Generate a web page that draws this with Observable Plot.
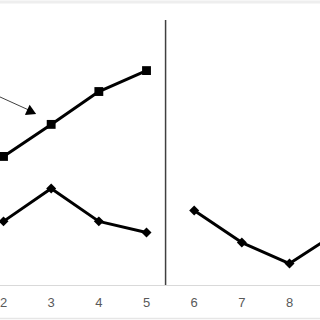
<!DOCTYPE html>
<html><head><meta charset="utf-8">
<script src="https://cdn.jsdelivr.net/npm/d3@7"></script>
<script src="https://cdn.jsdelivr.net/npm/@observablehq/plot@0.6"></script>
<style>body{margin:0;background:#fff;overflow:hidden}</style>
</head><body><div id="chart"></div>
<script>
const categories = [2, 3, 4, 5, 6, 7, 8, 9];
const squareX = [2, 3, 4, 5];
const squareY = [48.7, 60.8, 73.2, 81.1];
const diamondLeftX = [2, 3, 4, 5];
const diamondLeftY = [24.2, 36.6, 24.2, 20.0];
const diamondRightX = [6, 7, 8, 9];
const diamondRightY = [28.3, 16.2, 8.3, 20.0];
const dividerX = [5.4];
const arrowLine = [{x1: 1.7, y1: 73.0, x2: 2.52, y2: 66.3}];
const arrowHead = [{x: 2.56, y: 65.8}];

const sq = squareX.map((x, i) => ({x, y: squareY[i]}));
const dia = [
  ...diamondLeftX.map((x, i) => ({x, y: diamondLeftY[i], seg: "a"})),
  ...diamondRightX.map((x, i) => ({x, y: diamondRightY[i], seg: "b"}))
];
const tickVals = categories.filter(c => c <= 8);

const chart = Plot.plot({
  width: 320, height: 320,
  marginTop: 0, marginBottom: 35, marginLeft: 0, marginRight: 0,
  style: {fontFamily: "Liberation Sans, Arial, sans-serif", fontSize: "13px", color: "#595959", background: "#fff"},
  x: {domain: [1.937, 8.65]},
  y: {domain: [0, 107.55], axis: null},
  marks: [
    Plot.ruleY([107], {stroke: "#eeeeee", strokeWidth: 3}),
    Plot.ruleY([-12.5], {stroke: "#e6e6e6", strokeWidth: 1.5}),
    Plot.ruleY([0], {stroke: "#d9d9d9", strokeWidth: 1}),
    Plot.ruleX(dividerX, {y1: 0, y2: 100, stroke: "#404040", strokeWidth: 1.5}),
    Plot.link(arrowLine, {x1: "x1", y1: "y1", x2: "x2", y2: "y2", stroke: "#404040", strokeWidth: 1}),
    Plot.dot(arrowHead, {x: "x", y: "y", symbol: "triangle", r: 4.2, fill: "#000", rotate: 115}),
    Plot.line(sq, {x: "x", y: "y", stroke: "#000", strokeWidth: 3}),
    Plot.dot(sq, {x: "x", y: "y", symbol: "square", r: 5, fill: "#000"}),
    Plot.line(dia, {x: "x", y: "y", z: "seg", stroke: "#000", strokeWidth: 3}),
    Plot.dot(dia, {x: "x", y: "y", symbol: "diamond2", r: 4.5, fill: "#000", stroke: "none"}),
    Plot.axisX({ticks: tickVals, tickFormat: d => String(d), tickSize: 0, tickPadding: 12, fill: "#595959", fontSize: 13})
  ]
});
document.getElementById("chart").appendChild(chart);
</script></body></html>
